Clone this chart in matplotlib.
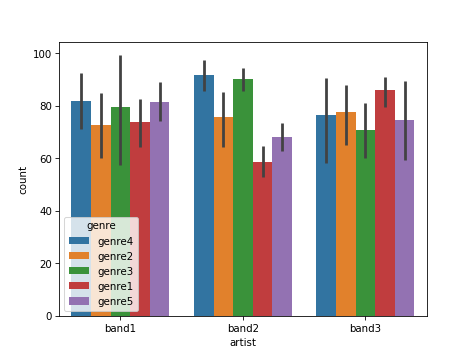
import numpy as np
import matplotlib
matplotlib.use('Agg')
import matplotlib.pyplot as plt

# dados
artists = ['band1', 'band2', 'band3']
genres = ['genre4', 'genre2', 'genre3', 'genre1', 'genre5']
colors = ['#3274a1', '#e1812c', '#3a923a', '#c03d3e', '#9372b2']

# media por genero (uma entrada por artista)
means = {
    'genre4': [81.8, 91.5, 76.4],
    'genre2': [72.6, 75.5, 77.5],
    'genre3': [79.5, 90.3, 70.9],
    'genre1': [73.6, 58.6, 85.9],
    'genre5': [81.3, 68.2, 74.4],
}
# intervalo de confianca (limite inferior e superior)
ci_low = {
    'genre4': [71.3, 85.6, 58.3],
    'genre2': [60.0, 64.4, 64.9],
    'genre3': [57.5, 85.6, 60.2],
    'genre1': [64.4, 52.8, 79.5],
    'genre5': [74.0, 62.6, 59.2],
}
ci_high = {
    'genre4': [92.4, 97.2, 90.4],
    'genre2': [84.9, 85.2, 87.8],
    'genre3': [99.2, 94.4, 81.1],
    'genre1': [82.7, 64.8, 90.8],
    'genre5': [89.1, 73.4, 89.4],
}

fig, ax = plt.subplots(figsize=(6.4, 4.8), dpi=74.0625)

x = np.arange(len(artists))
largura = 0.8 / len(genres)
for i, (g, cor) in enumerate(zip(genres, colors)):
    pos = x - 0.4 + largura * (i + 0.5)
    m = np.array(means[g])
    erro = [m - np.array(ci_low[g]), np.array(ci_high[g]) - m]
    ax.bar(pos, m, width=largura, color=cor, label=g,
           yerr=erro, error_kw=dict(ecolor='#424242', elinewidth=2.7, capsize=0))

ax.set_xticks(x)
ax.set_xticklabels(artists)
ax.set_xlim(-0.5, len(artists) - 0.5)
ax.set_xlabel('artist')
ax.set_ylabel('count')
ax.legend(title='genre', loc='lower left')

fig.savefig('out.png')
